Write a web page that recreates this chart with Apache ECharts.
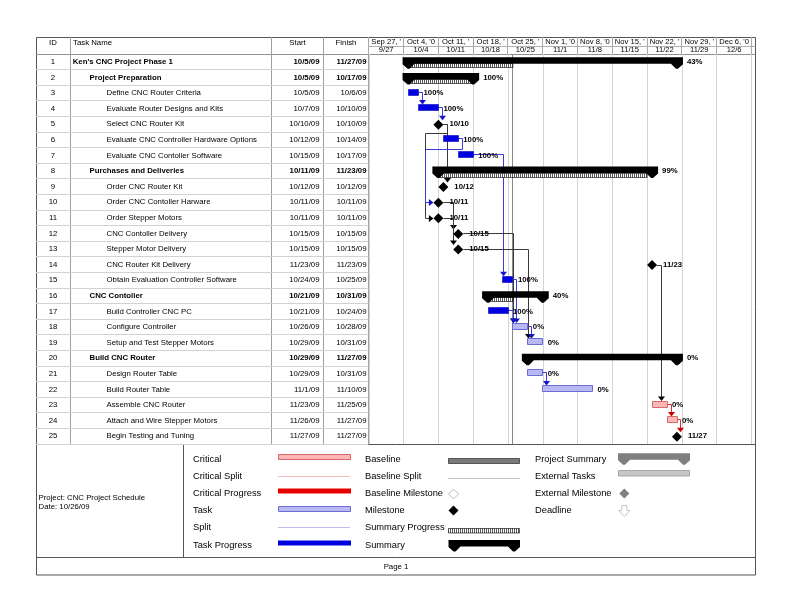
<!DOCTYPE html>
<html><head><meta charset="utf-8">
<script src="https://cdn.jsdelivr.net/npm/echarts@6.0.0/dist/echarts.min.js"></script>
<style>html,body{margin:0;padding:0;background:#fff}#c{width:792px;height:612px}</style>
</head><body><div id="c"></div>
<script>
// ---------------- data ----------------
const taskIds = ['1','2','3','4','5','6','7','8','9','10','11','12','13','14','15','16','17','18','19','20','21','22','23','24','25'];
const taskNames = ["Ken's CNC Project Phase 1","Project Preparation","Define CNC Router Criteria","Evaluate Router Designs and Kits","Select CNC Router Kit","Evaluate CNC Controller Hardware Options","Evaluate CNC Contoller Software","Purchases and Deliveries","Order CNC Router Kit","Order CNC Contoller Harware","Order Stepper Motors","CNC Contoller Delivery","Stepper Motor Delivery","CNC Router Kit Delivery","Obtain Evaluation Controller Software","CNC Contoller","Build Controller CNC PC","Configure Controller","Setup and Test Stepper Motors","Build CNC Router","Design Router Table","Build Router Table","Assemble CNC Router","Attach and Wire Stepper Motors","Begin Testing and Tuning"];
const outlineLevels = [1,2,3,3,3,3,3,2,3,3,3,3,3,3,3,2,3,3,3,2,3,3,3,3,3];
const startText = ['10/5/09','10/5/09','10/5/09','10/7/09','10/10/09','10/12/09','10/15/09','10/11/09','10/12/09','10/11/09','10/11/09','10/15/09','10/15/09','11/23/09','10/24/09','10/21/09','10/21/09','10/26/09','10/29/09','10/29/09','10/29/09','11/1/09','11/23/09','11/26/09','11/27/09'];
const finishText = ['11/27/09','10/17/09','10/6/09','10/10/09','10/10/09','10/14/09','10/17/09','11/23/09','10/12/09','10/11/09','10/11/09','10/15/09','10/15/09','11/23/09','10/25/09','10/31/09','10/24/09','10/28/09','10/31/09','11/27/09','10/31/09','11/10/09','11/25/09','11/27/09','11/27/09'];
const barType = ['summary','summary','done','done','milestone','done','done','summary','milestone','milestone','milestone','milestone','milestone','milestone','done','summary','done','task','task','summary','task','task','critical','critical','milestone'];
// bar positions in days counted from Sun Sep 27, 2009
const barStartDay = [8,8,8,10,14,15,18,14,15,14,14,18,18,57,27,24,24,29,32,32,32,35,57,60,62];
const barEndDay   = [62,21,10,14,14,18,21,57,15,14,14,18,18,57,29,35,28,32,35,62,35,45,60,62,62];
const percentComplete = [43,100,100,100,null,100,100,99,null,null,null,null,null,null,100,40,100,0,0,0,0,0,0,0,null];
const summaryProgressDay = [29,21,null,null,null,null,null,56,null,null,null,null,null,null,null,29,null,null,null,null,null,null,null,null,null];
const dependencies = [[3,4],[4,5],[5,9],[5,11],[6,10],[7,15],[10,12],[11,13],[12,18],[13,19],[14,23],[15,18],[17,18],[18,19],[21,22],[23,24],[24,25]];
const weekTopLabels = ["Sep 27, '","Oct 4, '0","Oct 11, '","Oct 18, '","Oct 25, '","Nov 1, '0","Nov 8, '0","Nov 15, '","Nov 22, '","Nov 29, '","Dec 6, '0"];
const weekBottomLabels = ['9/27','10/4','10/11','10/18','10/25','11/1','11/8','11/15','11/22','11/29','12/6'];
const statusDay = 29; // 10/26/09

// ---------------- helpers ----------------
const FF = '"Liberation Sans", Arial, Helvetica, sans-serif';
const pc = document.createElement('canvas'); pc.width = 2; pc.height = 2;
const pctx = pc.getContext('2d'); pctx.fillStyle = '#fff'; pctx.fillRect(0,0,2,2); pctx.fillStyle = '#5a5a5a'; pctx.fillRect(0,0,1,2);
const hatch = {image: pc, repeat: 'repeat'};
const crisp = v => Math.round(v - 0.5) + 0.5;
function txt(text, x, y, font, align, extra) {
  return Object.assign({type:'text', style:{text:text, x:x, y:y, font:font, fill:'#000', align:align||'left', textAlign:align||'left', verticalAlign:'middle', textVerticalAlign:'middle'}}, extra||{});
}
function summaryShape(x0, x1, c) {
  return [[x0-6,c-4.5],[x1+6,c-4.5],[x1+6,c+2.5],[x1+1,c+7],[x1-1,c+7],[x1-6,c+2],[x0+6,c+2],[x0+1,c+7],[x0-1,c+7],[x0-6,c+2.5]];
}
function diamond(x, y, r) { return [[x,y-r],[x+r,y],[x,y+r],[x-r,y]]; }
function barLabel(i) {
  if (barType[i] === 'milestone') return finishText[i].replace(/\/09$/, '');
  return percentComplete[i] + '%';
}

// ---------------- render functions ----------------
function renderBar(params, api) {
  const i = api.value(1), from = api.value(0), to = api.value(2);
  const kind = barType[i];
  const c = api.coord([from, i])[1];
  const x0 = api.coord([from, i])[0], x1 = api.coord([to, i])[0];
  const lf = 'bold 7.8px ' + FF;
  const ch = [];
  if (kind === 'summary') {
    const p = summaryProgressDay[i];
    if (p != null && p > from) {
      const xp = api.coord([p, i])[0];
      ch.push({type:'rect', shape:{x:x0, y:crisp(c+2), width:xp-x0, height:4}, style:{fill:hatch, stroke:'#000', lineWidth:0.6}});
    }
    ch.push({type:'polygon', shape:{points:summaryShape(x0, x1, c)}, style:{fill:'#000'}});
    ch.push(txt(barLabel(i), x1+10, c, lf));
  } else if (kind === 'milestone') {
    ch.push({type:'polygon', shape:{points:diamond(x0, c+0.5, 5)}, style:{fill:'#000'}});
    ch.push(txt(barLabel(i), x0+11, c, lf));
  } else {
    let st;
    if (kind === 'done') st = {fill:'#0000e0', stroke:'#0000c0', lineWidth:0.6};
    else if (kind === 'critical') st = {fill:'#ffb6b6', stroke:'#d46a6a', lineWidth:1};
    else st = {fill:'#b8b8f4', stroke:'#6c6cd4', lineWidth:1};
    ch.push({type:'rect', shape:{x:crisp(x0), y:crisp(c-4), width:Math.round(x1-x0), height:6}, style:st});
    ch.push(txt(barLabel(i), x1+5, c, lf));
  }
  return {type:'group', children:ch};
}

function renderLink(params, api) {
  const p = api.value(1), s = api.value(3);
  const X = d => api.coord([d, 0])[0];
  const C = r => api.coord([0, r])[1];
  const pk = barType[p], sk = barType[s];
  const cp = C(p), cs = C(s);
  const pEnd = pk === 'milestone' ? X(barEndDay[p]) + 5 : X(barEndDay[p]);
  const yP = pk === 'milestone' ? cp + 0.5 : cp - 1;
  const sStart = sk === 'milestone' ? X(barStartDay[s]) - 5 : X(barStartDay[s]);
  const sRight = sk === 'milestone' ? X(barStartDay[s]) + 5 : X(barEndDay[s]);
  const ySucc = sk === 'milestone' ? cs + 0.5 : cs - 1;
  const col = pk === 'milestone' ? ['#3a3a3a','#000'] : pk === 'critical' ? ['#d83030','#d00000'] : ['#3b3bd6','#1414c8'];
  const xv = Math.max(pEnd + 4, sStart + 0.5);
  const ch = [];
  const ya = crisp(yP);
  if (xv <= sRight) {
    const xa = crisp(xv), tip = cs - 4;
    ch.push({type:'polyline', shape:{points:[[pEnd,ya],[xa,ya],[xa,tip-4]]}, style:{stroke:col[0], lineWidth:1, fill:'none'}});
    ch.push({type:'polygon', shape:{points:[[xa-3.5,tip-4.5],[xa+3.5,tip-4.5],[xa,tip]]}, style:{fill:col[1]}});
  } else {
    const xa = crisp(pEnd + 4), ym = crisp(cp + 9.5), xb = crisp(sStart - 8), ys = crisp(ySucc);
    ch.push({type:'polyline', shape:{points:[[pEnd,ya],[xa,ya],[xa,ym],[xb,ym],[xb,ys],[sStart-4,ys]]}, style:{stroke:col[0], lineWidth:1, fill:'none'}});
    ch.push({type:'polygon', shape:{points:[[sStart-4.5,ys-3.5],[sStart-4.5,ys+3.5],[sStart,ys]]}, style:{fill:col[1]}});
  }
  return {type:'group', children:ch};
}

function renderWeek(params, api) {
  const k = params.dataIndex;
  const x0 = api.coord([api.value(0), 0])[0], x1 = api.coord([api.value(2), 0])[0];
  const cs = params.coordSys;
  const top = cs.y, bot = cs.y + cs.height, mid = top + 9;
  const f = '7.6px ' + FF;
  const ch = [
    {type:'line', shape:{x1:crisp(x0), y1:top, x2:crisp(x0), y2:bot}, style:{stroke:'#a8a8a8', lineWidth:1}},
    txt(weekTopLabels[k], (x0+x1)/2, top+4.8, f, 'center'),
    txt(weekBottomLabels[k], (x0+x1)/2, mid+4.2, f, 'center')
  ];
  if (k === weekBottomLabels.length - 1) ch.push({type:'line', shape:{x1:crisp(x1), y1:top, x2:crisp(x1), y2:bot}, style:{stroke:'#a8a8a8', lineWidth:1}});
  return {type:'group', children:ch};
}

function renderRow(params, api) {
  const i = api.value(1);
  const c = api.coord([0, i])[1];
  const h = api.size([0, 1])[1];
  const bold = barType[i] === 'summary';
  const f = (bold ? 'bold ' : '') + '7.8px ' + FF;
  const indent = [0, 72.7, 89.5, 106.5];
  return {type:'group', children:[
    {type:'line', shape:{x1:36, y1:crisp(c+h/2), x2:368.5, y2:crisp(c+h/2)}, style:{stroke:'#d2d2d2', lineWidth:1}},
    txt(taskIds[i], 53, c, '7.8px ' + FF, 'center'),
    txt(taskNames[i], indent[outlineLevels[i]], c, f),
    txt(startText[i], 319.5, c, f, 'right'),
    txt(finishText[i], 366.5, c, f, 'right')
  ]};
}

function renderStatus(params, api) {
  const x = crisp(api.coord([api.value(0), 0])[0]);
  const cs = params.coordSys;
  return {type:'line', shape:{x1:x, y1:cs.y, x2:x, y2:cs.y+cs.height}, style:{stroke:'#8a8a8a', lineWidth:1}};
}

// ---------------- legend / frame graphics ----------------
const LF = '9.3px ' + FF;
const legendRowsY = [459, 476.2, 493.4, 510.6, 527.8, 545];
const G = [];
function gline(x1,y1,x2,y2,color,dash){ G.push({type:'line', shape:{x1:x1,y1:y1,x2:x2,y2:y2}, style:{stroke:color, lineWidth:1, lineDash:dash||null}, silent:true}); }
function gtext(t,x,y,font,align){ const e = txt(t,x,y,font,align); e.silent = true; G.push(e); }
// frame
G.push({type:'rect', shape:{x:36.5,y:37.5,width:719,height:537.5}, style:{fill:'none', stroke:'#555', lineWidth:1}, silent:true});
gline(36, 54.5, 755.5, 54.5, '#909090');
gline(368.5, 46.5, 755.5, 46.5, '#b0b0b0');
[70.5, 271.5, 323.5, 368.5].forEach(x => gline(x, 37, x, 444, '#a0a0a0'));
gline(36, 444.5, 755.5, 444.5, '#555');
gline(183.5, 444.5, 183.5, 557.5, '#555');
gline(36, 557.5, 755.5, 557.5, '#555');
// table header
gtext('ID', 53, 42.5, '7.8px ' + FF, 'center');
gtext('Task Name', 73, 42.5, '7.8px ' + FF);
gtext('Start', 297.5, 42.5, '7.8px ' + FF, 'center');
gtext('Finish', 346, 42.5, '7.8px ' + FF, 'center');
// left box
gtext('Project: CNC Project Schedule', 38.5, 498, '7.8px ' + FF);
gtext('Date: 10/26/09', 38.5, 506.5, '7.8px ' + FF);
// footer
gtext('Page 1', 396, 566.5, '7.8px ' + FF, 'center');
// legend col 1
['Critical','Critical Split','Critical Progress','Task','Split','Task Progress'].forEach((t,k)=>gtext(t,193,legendRowsY[k],LF));
G.push({type:'rect', shape:{x:278.5,y:454.5,width:72,height:5}, style:{fill:'#ffb6b6', stroke:'#d46a6a', lineWidth:1}, silent:true});
gline(278.5, 476.5, 350.5, 476.5, '#e87878', [1,1]);
G.push({type:'rect', shape:{x:278,y:488.5,width:73,height:5}, style:{fill:'#e80000'}, silent:true});
G.push({type:'rect', shape:{x:278.5,y:506.5,width:72,height:5}, style:{fill:'#b8b8f4', stroke:'#6c6cd4', lineWidth:1}, silent:true});
gline(278.5, 527.5, 350.5, 527.5, '#7878dc', [1,1]);
G.push({type:'rect', shape:{x:278,y:540.5,width:73,height:5}, style:{fill:'#0000e0'}, silent:true});
// legend col 2
['Baseline','Baseline Split','Baseline Milestone','Milestone','Summary Progress','Summary'].forEach((t,k)=>gtext(t,365,legendRowsY[k],LF));
G.push({type:'rect', shape:{x:448.5,y:458.5,width:71,height:5}, style:{fill:'#7a7a7a', stroke:'#555', lineWidth:1}, silent:true});
gline(448.5, 478.5, 519.5, 478.5, '#808080', [1,1]);
G.push({type:'polygon', shape:{points:diamond(453.5,494,5)}, style:{fill:'#fff', stroke:'#b8b8b8', lineWidth:1}, silent:true});
G.push({type:'polygon', shape:{points:diamond(453.5,510.6,5)}, style:{fill:'#000'}, silent:true});
G.push({type:'rect', shape:{x:448.5,y:528.5,width:71,height:4.5}, style:{fill:hatch, stroke:'#000', lineWidth:0.6}, silent:true});
G.push({type:'polygon', shape:{points:summaryShape(454.5,514,544.5)}, style:{fill:'#000'}, silent:true});
// legend col 3
['Project Summary','External Tasks','External Milestone','Deadline'].forEach((t,k)=>gtext(t,535,legendRowsY[k],LF));
G.push({type:'polygon', shape:{points:summaryShape(624,684,457.8)}, style:{fill:'#7f7f7f'}, silent:true});
G.push({type:'rect', shape:{x:618.5,y:470.5,width:71,height:5.5}, style:{fill:'#c6c6c6', stroke:'#a8a8a8', lineWidth:1}, silent:true});
G.push({type:'polygon', shape:{points:diamond(624.3,493.4,5)}, style:{fill:'#808080'}, silent:true});
G.push({type:'polygon', shape:{points:[[621.8,505.5],[626.8,505.5],[626.8,510.5],[629.8,510.5],[624.3,516.5],[618.8,510.5],[621.8,510.5]]}, style:{fill:'none', stroke:'#c4c4c4', lineWidth:1}, silent:true});

// ---------------- chart ----------------
const chart = echarts.init(document.getElementById('c'));
const DAYW = 4.97, NDAYS = 77;
chart.setOption({
  backgroundColor: '#fff',
  animation: false,
  grid: [
    {left: 368.8, top: 54, width: NDAYS*DAYW, height: 390},
    {left: 368.8, top: 37, width: NDAYS*DAYW, height: 17},
    {left: 36, top: 54, width: 332.5, height: 390}
  ],
  xAxis: [
    {gridIndex:0, type:'value', min:0, max:NDAYS, interval:7, axisLine:{show:false}, axisTick:{show:false}, axisLabel:{show:false}, splitLine:{show:true, lineStyle:{color:'#d4d4d4', width:1}}},
    {gridIndex:1, type:'value', min:0, max:NDAYS, show:false},
    {gridIndex:2, type:'value', min:0, max:1, show:false}
  ],
  yAxis: [
    {gridIndex:0, type:'category', data:taskIds, inverse:true, show:false},
    {gridIndex:1, type:'category', data:['tier'], show:false},
    {gridIndex:2, type:'category', data:taskIds, inverse:true, show:false}
  ],
  graphic: {elements: G},
  series: [
    {type:'custom', xAxisIndex:0, yAxisIndex:0, silent:true, z:1, data:[[statusDay, 0]], encode:{x:0, y:1}, renderItem:renderStatus},
    {type:'custom', xAxisIndex:0, yAxisIndex:0, silent:true, z:2, data:dependencies.map(d => [barEndDay[d[0]-1], d[0]-1, barStartDay[d[1]-1], d[1]-1]), encode:{x:[0,2], y:[1,3]}, renderItem:renderLink},
    {type:'custom', xAxisIndex:0, yAxisIndex:0, silent:true, z:3, data:barStartDay.map((s,i) => [s, i, barEndDay[i]]), encode:{x:[0,2], y:1}, renderItem:renderBar},
    {type:'custom', xAxisIndex:1, yAxisIndex:1, silent:true, z:3, data:weekBottomLabels.map((_,k) => [7*k, 0, 7*k+7]), encode:{x:[0,2], y:1}, renderItem:renderWeek},
    {type:'custom', xAxisIndex:2, yAxisIndex:2, silent:true, z:3, data:taskIds.map((_,i) => [0, i]), encode:{x:0, y:1}, renderItem:renderRow}
  ]
});
</script></body></html>
